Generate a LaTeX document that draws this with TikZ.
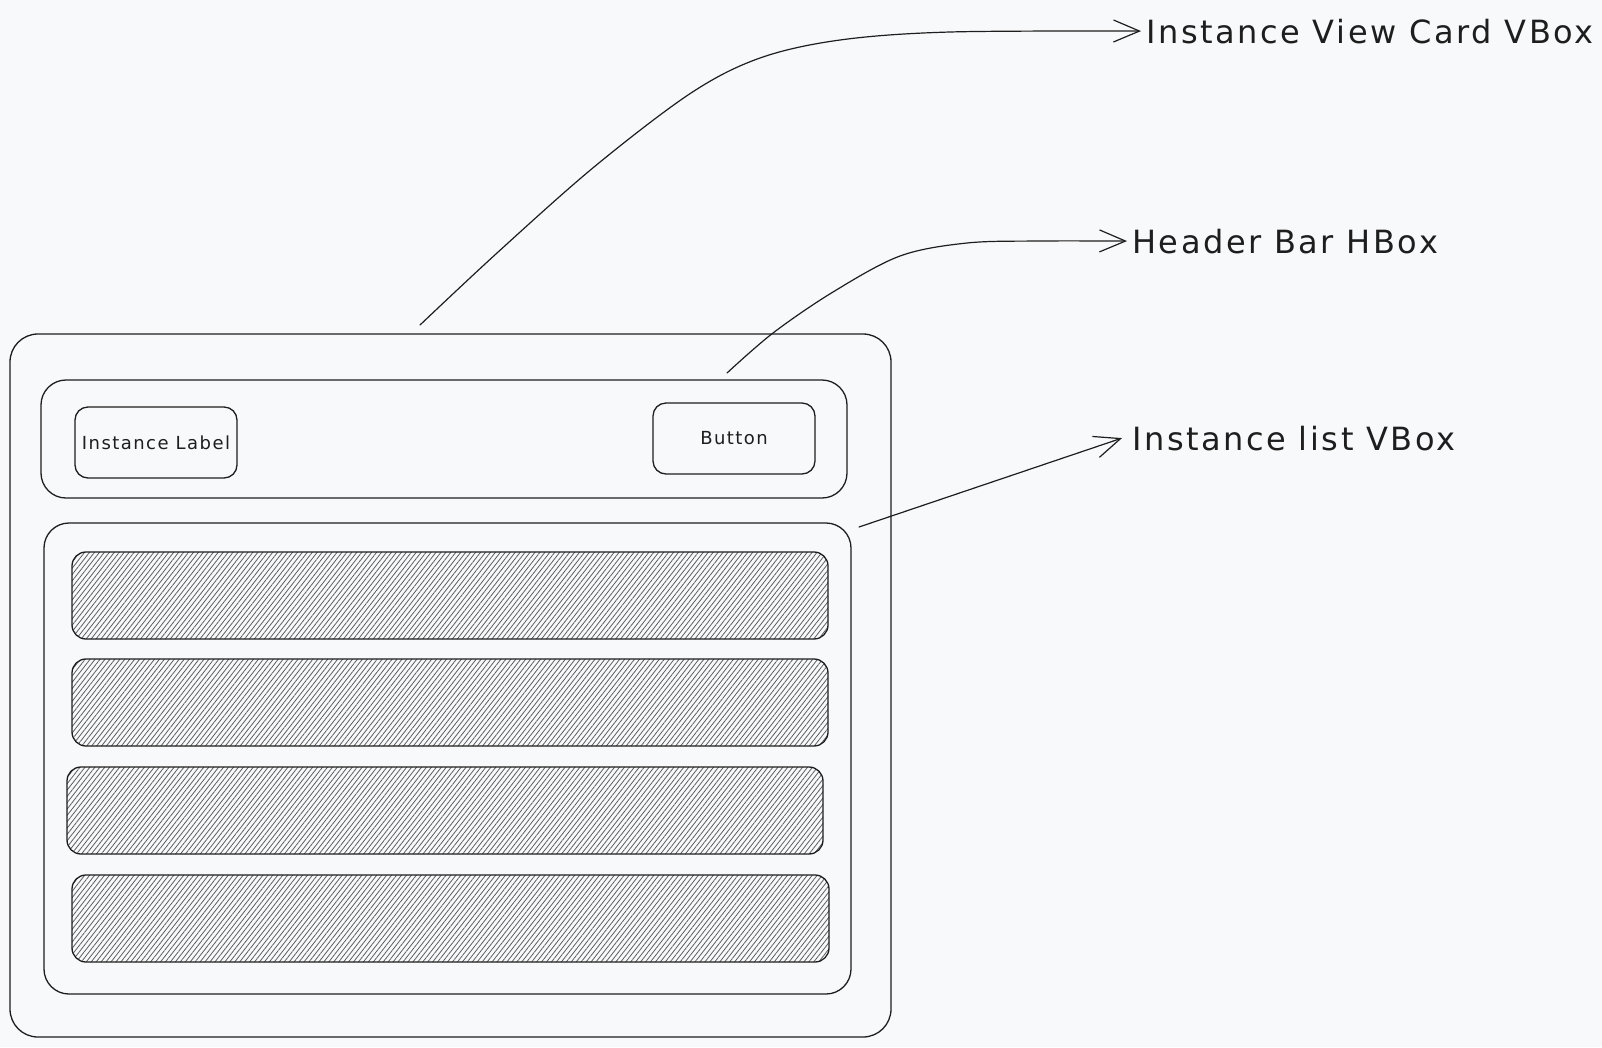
\documentclass[tikz,border=0pt]{standalone}
\usepackage{fontspec}
\setmainfont{DejaVu Sans}[LetterSpace=8.0]
\usetikzlibrary{arrows.meta,fit,patterns.meta}
\definecolor{ink}{HTML}{1E1E1E}
\definecolor{bg}{HTML}{F8F9FA}
\tikzset{
  stroke/.style={draw=ink, line width=1.3pt},
  rbox/.style={stroke, rounded corners=#1, inner sep=0pt},
  hatchrow/.style={stroke, rounded corners=14pt, inner sep=0pt,
    pattern={Lines[angle=52,distance=3.9pt,line width=0.8pt]}, pattern color=ink!72},
  conn/.style={draw=ink, line width=1.2pt, line cap=round,
    -{Straight Barb[length=26pt,width=22pt,line width=1.2pt]}},
  lbl/.style={text=ink, inner xsep=5pt, inner ysep=0pt, anchor=base west,
    font=\fontsize{32}{38}\selectfont},
  small/.style={text=ink, font=\fontsize{18}{22}\selectfont}
}
\begin{document}
\begin{tikzpicture}[x=1pt,y=-1pt]
\fill[bg] (0,0) rectangle (1602,1047);
\useasboundingbox (0,0) rectangle (1602,1047);

% containers
\node[rbox=28pt, fit={(10,334) (891,1037)}] (card) {};
\node[rbox=25pt, fit={(41,380) (847,498)}] (header) {};
\node[rbox=13pt, small, minimum width=162pt, minimum height=71pt] (ilabel) at (156,442.5) {Instance Label};
\node[rbox=13pt, small, minimum width=162pt, minimum height=71pt] (button) at (734,438.5) {Button};
\node[rbox=25pt, fit={(44,523) (851,994)}] (list) {};

% hatched rows
\node[hatchrow, fit={(72,552) (828,639)}] (row1) {};
\node[hatchrow, fit={(72,659) (828,746)}] (row2) {};
\node[hatchrow, fit={(67,767) (823,854)}] (row3) {};
\node[hatchrow, fit={(72,875) (829,962)}] (row4) {};

% labels
\node[lbl] (t1) at (1141,43) {Instance View Card VBox};
\node[lbl] (t2) at (1127,253) {Header Bar HBox};
\node[lbl, inner xsep=10pt] (t3) at (1122,450) {Instance list VBox};

% connector start points
\coordinate (a1) at (420,325);
\coordinate (a2) at (727,373);
\coordinate (a3) at (859,527);

\draw[conn] plot[smooth, tension=0.55] coordinates
  {(a1) (497,253) (594,167) (691,93) (760,58) (840,40) (950,32) (t1.west)};
\draw[conn] plot[smooth, tension=0.55] coordinates
  {(a2) (773,333) (833,292) (900,256) (967,243) (1040,241) (t2.west)};
\draw[conn] (a3) -- (t3.west);
\end{tikzpicture}
\end{document}
